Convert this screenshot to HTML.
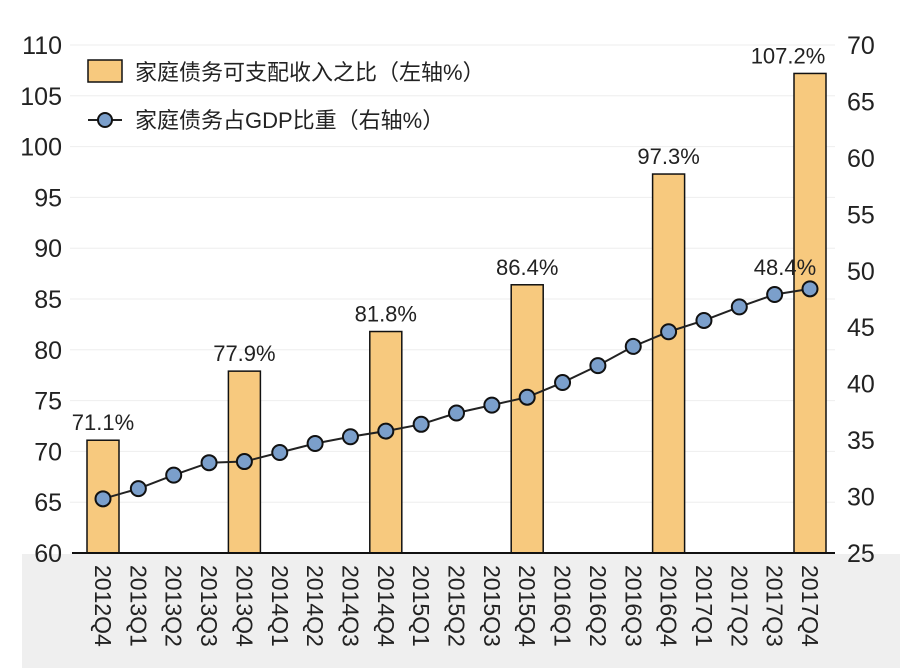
<!DOCTYPE html>
<html><head><meta charset="utf-8"><style>
body{margin:0;background:#fff;}
svg{display:block;font-family:"Liberation Sans","Noto Sans CJK SC",sans-serif;}
</style></head><body>
<svg id="chart" width="900" height="671" viewBox="0 0 900 671" xmlns="http://www.w3.org/2000/svg">
<rect x="22" y="554" width="878" height="114" fill="#efefef"/>
<g id="grid"></g><g id="bars"></g><g id="line"></g><g id="axes"></g>
<g>
<rect x="88" y="60" width="34" height="22" fill="#f7c97e" stroke="#111" stroke-width="1.5"/>
<text x="135" y="80" font-size="22" fill="#222">家庭债务可支配收入之比（左轴%）</text>
<line x1="88" y1="120" x2="122" y2="120" stroke="#222" stroke-width="2"/>
<circle cx="105" cy="120" r="7" fill="#7b9fcb" stroke="#111" stroke-width="2"/>
<text x="135" y="128" font-size="22" fill="#222">家庭债务占GDP比重（右轴%）</text>
</g>
</svg>
<script>
const categories=["2012Q4","2013Q1","2013Q2","2013Q3","2013Q4","2014Q1","2014Q2","2014Q3","2014Q4","2015Q1","2015Q2","2015Q3","2015Q4","2016Q1","2016Q2","2016Q3","2016Q4","2017Q1","2017Q2","2017Q3","2017Q4"];
const barCategories=["2012Q4","2013Q4","2014Q4","2015Q4","2016Q4","2017Q4"];
const barValues=[71.1,77.9,81.8,86.4,97.3,107.2];
const lineValues=[29.8,30.7,31.9,33.0,33.1,33.9,34.7,35.3,35.8,36.4,37.4,38.1,38.8,40.1,41.6,43.3,44.6,45.6,46.8,47.9,48.4];
const leftTicks=[60,65,70,75,80,85,90,95,100,105,110];
const rightTicks=[25,30,35,40,45,50,55,60,65,70];
const NS="http://www.w3.org/2000/svg";
const y0=553,yTop=45;
const yL=v=>y0-(v-60)/50*(y0-yTop);
const yR=v=>y0-(v-25)/45*(y0-yTop);
const xC=i=>103+i*35.35;
function mk(t,a,p){const e=document.createElementNS(NS,t);for(const k in a)e.setAttribute(k,a[k]);p.appendChild(e);return e;}
const grid=document.getElementById('grid'),bars=document.getElementById('bars'),line=document.getElementById('line'),axes=document.getElementById('axes');
leftTicks.forEach(v=>{
 const g=mk('line',{x1:70,x2:835,y1:yL(v),y2:yL(v),stroke:'#eee','stroke-width':1},grid);
 
 
 const t=mk('text',{x:62,y:yL(v)+9,'text-anchor':'end','font-size':25,fill:'#222'},axes);
 t.textContent=v;
 
 
});
rightTicks.forEach(v=>{
 const t=mk('text',{x:847,y:yR(v)+9,'font-size':25,fill:'#222'},axes);
 t.textContent=v;
 
 
});
const base=mk('line',{x1:72,x2:835,y1:y0,y2:y0,stroke:'#111','stroke-width':2},axes);


categories.forEach((c,i)=>{
 const t=mk('text',{x:0,y:0,'font-size':23,fill:'#222',transform:`translate(${xC(i)-8},565) rotate(90)`},axes);
 t.textContent=c;
 
 
});
barCategories.forEach((c,j)=>{
 const i=categories.indexOf(c),v=barValues[j];
 const r=mk('rect',{x:xC(i)-16,y:yL(v),width:32,height:y0-yL(v),fill:'#f7c97e',stroke:'#111','stroke-width':1.5},bars);
 
 
 const dx=(j===barValues.length-1)?-22:0;
 const t=mk('text',{x:xC(i)+dx,y:yL(v)-10,'text-anchor':'middle','font-size':22,fill:'#222'},bars);
 t.textContent=v+'%';
 
 
});
const pl=mk('polyline',{points:lineValues.map((v,i)=>xC(i)+','+yR(v)).join(' '),fill:'none',stroke:'#222','stroke-width':2},line);


lineValues.forEach((v,i)=>{
 const c=mk('circle',{cx:xC(i),cy:yR(v),r:7.5,fill:'#7b9fcb',stroke:'#111','stroke-width':2},line);
 
 
});
const last=lineValues.length-1;
const lt=mk('text',{x:xC(last)-25,y:yR(lineValues[last])-14,'text-anchor':'middle','font-size':22,fill:'#222'},line);
lt.textContent=lineValues[last]+'%';


</script>
</body></html>
